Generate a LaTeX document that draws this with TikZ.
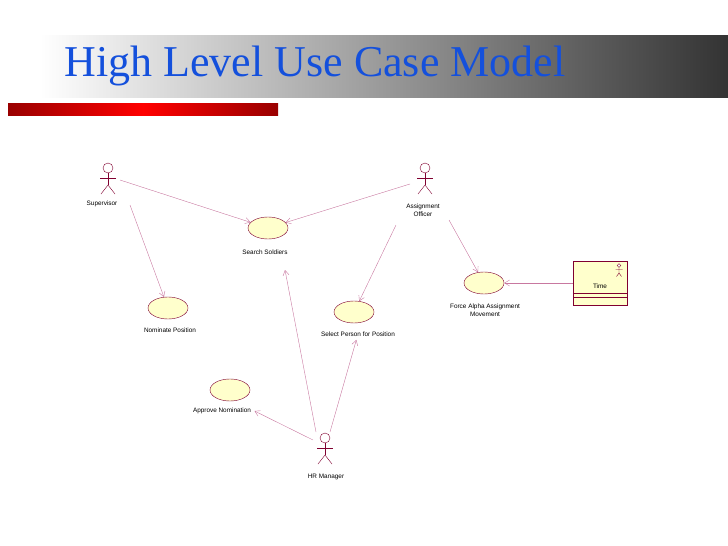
\documentclass[tikz,border=0pt]{standalone}
\usepackage{fontspec}
\setmainfont{Liberation Sans}
\newfontfamily\titlefont{Liberation Serif}
\usetikzlibrary{arrows.meta,shapes.geometric}
\definecolor{umlline}{RGB}{200,120,160}
\definecolor{umlred}{RGB}{128,0,48}
\definecolor{umlfill}{RGB}{255,255,204}
\definecolor{titleblue}{RGB}{20,80,220}
\newcommand{\stickman}[1]{%
  \draw[umlred,fill=white] (#1) ++(0,-10) circle (5);
  \draw[umlred] (#1) ++(0,-5) -- ++(0,12) (#1) ++(-8,0) -- ++(16,0);
  \draw[umlred] (#1) ++(0,7) -- ++(-7,9) (#1) ++(0,7) -- ++(7,9);}
\begin{document}
\begin{tikzpicture}[
    x=1pt, y=-1pt,
    usecase/.style={ellipse,draw=umlred,fill=umlfill,minimum width=40pt,minimum height=22pt,inner sep=0pt},
    lbl/.style={font=\fontsize{6.4}{7.8}\selectfont,align=center},
    assoc/.style={umlline,-{Straight Barb[length=5pt,width=6pt]}}]
    \useasboundingbox (0,0) rectangle (728,546);
    % Titel
    \shade[left color=white,right color=black!80] (40,35) rectangle (728,97);
    \shade[left color=red!60!black,right color=red!60!black,middle color=red] (8,103) rectangle (278,115);
    \node[font=\titlefont\fontsize{44}{46}\selectfont,text=titleblue] (title) at (315,66) {High Level Use Case Model};

    % Akteure
    \coordinate (supervisor) at (108,178);
    \coordinate (officer) at (425,178);
    \coordinate (hr) at (325,448);
    \stickman{supervisor}
    \stickman{officer}
    \stickman{hr}
    \node[lbl] (supervisorlbl) at (102,204) {Supervisor};
    \node[lbl] (officerlbl) at (423,210) {Assignment\\Officer};
    \node[lbl] (hrlbl) at (326,477) {HR Manager};

    % Anwendungsfaelle
    \node[usecase] (search) at (268,228) {};
    \node[lbl] (searchlbl) at (265,252) {Search Soldiers};
    \node[usecase] (nominate) at (168,308) {};
    \node[lbl] (nominatelbl) at (170,330) {Nominate Position};
    \node[usecase] (select) at (354,312) {};
    \node[lbl] (selectlbl) at (358,334) {Select Person for Position};
    \node[usecase] (force) at (484,283) {};
    \node[lbl] (forcelbl) at (485,310) {Force Alpha Assignment\\Movement};
    \node[usecase] (approve) at (230,390) {};
    \node[lbl] (approvelbl) at (222,411) {Approve Nomination};

    % Time
    \node[draw=umlred,fill=umlfill,minimum width=54pt,minimum height=44pt,inner sep=0pt] (time) at (600,283) {};
    \node[lbl] (timelbl) at (600,286) {Time};
    \draw[umlred] (time.west) ++(0,10) -- ++(54,0) ++(0,4) -- ++(-54,0);
    \draw[umlred,fill=white] (619,265.5) circle (1.8);
    \draw[umlred] (619,267.3) -- (619,273) (615.5,269.5) -- (622.5,269.5) (619,273) -- (616.5,276.5) (619,273) -- (621.5,276.5);

    % Assoziationen
    \coordinate (s1) at (120,180);
    \coordinate (s2) at (130,205);
    \coordinate (o1) at (410,184);
    \coordinate (o2) at (396,225);
    \coordinate (o3) at (449,220);
    \coordinate (h1) at (316,432);
    \coordinate (h2) at (330,432);
    \coordinate (h3) at (313,440);
    \coordinate (searchend) at (285,270);
    \draw[assoc] (s1) -- (search);
    \draw[assoc] (s2) -- (nominate);
    \draw[assoc] (o1) -- (search);
    \draw[assoc] (o2) -- (select);
    \draw[assoc] (o3) -- (force);
    \draw[assoc] (time) -- (force);
    \draw[assoc] (h1) -- (searchend);
    \draw[assoc] (h2) -- (selectlbl);
    \draw[assoc] (h3) -- (approvelbl.east);
\end{tikzpicture}
\end{document}
